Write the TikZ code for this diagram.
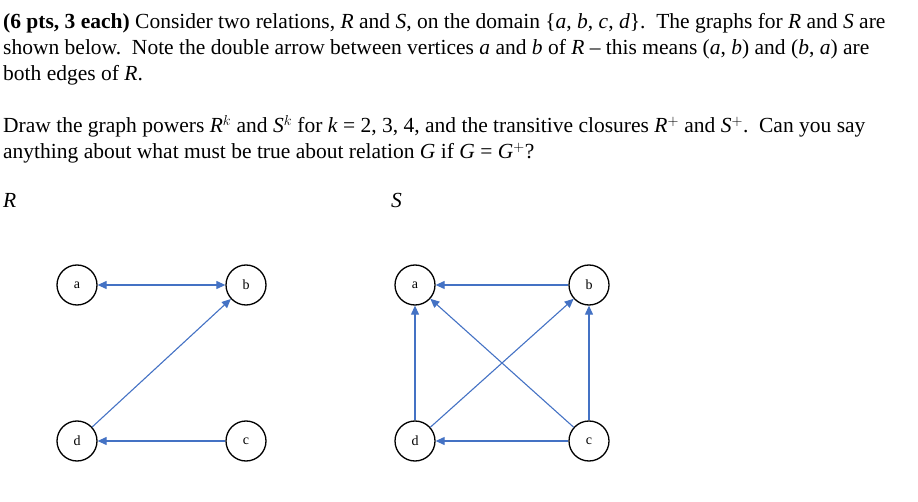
\documentclass[tikz,border=0pt]{standalone}
\usepackage{fontspec}
\setmainfont{Liberation Serif}
\usetikzlibrary{arrows.meta}
\definecolor{arr}{RGB}{68,114,196}
\begin{document}
\begin{tikzpicture}[x=1pt,y=-1pt,
 txt/.style={anchor=base west,inner sep=0pt,font=\fontsize{21.5}{24}\selectfont},
 vert/.style={circle,draw,line width=1.3pt,minimum size=40pt,inner sep=0pt,font=\fontsize{14}{14}\selectfont},
 edge/.style={arr,line width=1.1pt,-{Triangle[length=9pt,width=8pt]}}]
\useasboundingbox (0,0) rectangle (918,502);
\node[txt] (l1) at (3,29) {\textbf{(6 pts, 3 each)} Consider two relations, \textit{R} and \textit{S}, on the domain \{\textit{a}, \textit{b}, \textit{c}, \textit{d}\}.\ \ The graphs for \textit{R} and \textit{S} are};
\node[txt] (l2) at (3,55) {shown below.\ \ Note the double arrow between vertices \textit{a} and \textit{b} of \textit{R} -- this means (\textit{a}, \textit{b}) and (\textit{b}, \textit{a}) are};
\node[txt] (l3) at (3,81) {both edges of \textit{R}.};
\node[txt] (l4) at (3,133) {Draw the graph powers \textit{R}$^{k}$ and \textit{S}$^{k}$ for \textit{k} = 2, 3, 4, and the transitive closures \textit{R}$^{+}$ and \textit{S}$^{+}$.\ \ Can you say};
\node[txt] (l5) at (3,159) {anything about what must be true about relation \textit{G} if \textit{G} = \textit{G}$^{+}$?};
\node[txt] (lr) at (3,208) {\textit{R}};
\node[txt] (ls) at (391,208) {\textit{S}};
\node[vert] (ra) at (77,285) {a};
\node[vert] (rb) at (246,285) {b};
\node[vert] (rd) at (77,441) {d};
\node[vert] (rc) at (246,441) {c};
\draw[edge,{Triangle[length=9pt,width=8pt]}-{Triangle[length=9pt,width=8pt]}] (ra) -- (rb);
\draw[edge] (rd) -- (rb);
\draw[edge] (rc) -- (rd);
\node[vert] (sa) at (415,285) {a};
\node[vert] (sb) at (589,285) {b};
\node[vert] (sd) at (415,441) {d};
\node[vert] (sc) at (589,441) {c};
\draw[edge] (sb) -- (sa);
\draw[edge] (sd) -- (sa);
\draw[edge] (sc) -- (sa);
\draw[edge] (sd) -- (sb);
\draw[edge] (sc) -- (sb);
\draw[edge] (sc) -- (sd);
\end{tikzpicture}
\end{document}
